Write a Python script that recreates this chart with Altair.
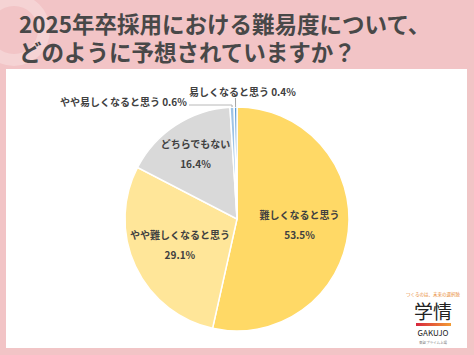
import altair as alt
import pandas as pd

categories = ["難しくなると思う", "やや難しくなると思う", "どちらでもない", "やや易しくなると思う", "易しくなると思う"]
values = [53.5, 29.1, 16.4, 0.6, 0.4]
colors = ["#FFD966", "#FFE699", "#D9D9D9", "#9DC3E6", "#5B9BD5"]
title_lines = ["2025年卒採用における難易度について、", "どのように予想されていますか？"]

df = pd.DataFrame({
    "cat": categories,
    "value": values,
    "order": list(range(len(categories))),
})
df["label"] = [f"{c}\n{v:.1f}%" for c, v in zip(categories, values)]
df["outlabel"] = [f"{c} {v:.1f}%" for c, v in zip(categories, values)]

W, H = 474, 355
CX, CY, R = 237, 219, 112
TAU = 6.283185307179586

theta_scale = alt.Scale(domain=[0, 100], range=[0, TAU])

base = alt.Chart(df).transform_window(
    cum="sum(value)", sort=[{"field": "order"}], frame=[None, 0]
).transform_calculate(
    start="datum.cum - datum.value",
    mid="datum.cum - datum.value / 2",
    lo="datum.cum - datum.value / 2 - 0.07",
    hi="datum.cum - datum.value / 2 + 0.07",
)

one = pd.DataFrame({"a": [0]})

panel = alt.Chart(one).mark_rect(color="white").encode(
    x=alt.value(6), x2=alt.value(467), y=alt.value(69), y2=alt.value(348)
)

ring = alt.Chart(one).mark_arc(radius=36, radius2=24, color="white", opacity=0.25).encode(
    x=alt.value(14), y=alt.value(30), theta=alt.value(0), theta2=alt.value(TAU)
)

title_df = pd.DataFrame({"t": ["\n".join(title_lines)], "py": [33]})
title = alt.Chart(title_df).mark_text(
    font="Noto Sans CJK JP", fontWeight="bold", fontSize=22.5, color="#484848",
    align="left", baseline="alphabetic", lineBreak="\n", lineHeight=28
).encode(
    x=alt.value(19),
    y=alt.Y("py:Q", scale=None),
    text="t:N",
)

pie = base.mark_arc(outerRadius=R, stroke="white", strokeWidth=1.5).encode(
    x=alt.value(CX), y=alt.value(CY),
    theta=alt.Theta("start:Q", scale=theta_scale),
    theta2="cum:Q",
    color=alt.Color("cat:N", scale=alt.Scale(domain=categories, range=colors), legend=None),
)

txt_style = dict(font="Noto Sans CJK JP", fontSize=10, fontWeight="bold", color="#404040",
                 lineBreak="\n", lineHeight=20, align="center", baseline="middle")

inner_big = base.transform_filter("datum.value > 20").mark_text(radius=63, dy=-10, **txt_style).encode(
    x=alt.value(CX), y=alt.value(CY),
    theta=alt.Theta("mid:Q", scale=theta_scale), text="label:N",
)
inner_mid = base.transform_filter("datum.value > 5 && datum.value < 20").mark_text(radius=76, dy=-10, **txt_style).encode(
    x=alt.value(CX), y=alt.value(CY),
    theta=alt.Theta("mid:Q", scale=theta_scale), text="label:N",
)

out_style = dict(font="Noto Sans CJK JP", fontSize=10, fontWeight="bold", color="#404040",
                 baseline="middle")
out_a = base.transform_filter("datum.order == 4").mark_text(radius=126, dx=7, align="center", **out_style).encode(
    x=alt.value(CX), y=alt.value(CY),
    theta=alt.Theta("mid:Q", scale=theta_scale), text="outlabel:N",
)
out_b = base.transform_filter("datum.order == 3").mark_text(radius=116, dx=-45, align="right", **out_style).encode(
    x=alt.value(CX), y=alt.value(CY),
    theta=alt.Theta("mid:Q", scale=theta_scale), text="outlabel:N",
)

lead_a = base.transform_filter("datum.order == 4").mark_arc(radius=121, radius2=R, color="#A6A6A6").encode(
    x=alt.value(CX), y=alt.value(CY),
    theta=alt.Theta("lo:Q", scale=theta_scale), theta2="hi:Q",
)
lead_b_rad = base.transform_filter("datum.order == 3").mark_arc(radius=114, radius2=R, color="#A6A6A6").encode(
    x=alt.value(CX), y=alt.value(CY),
    theta=alt.Theta("lo:Q", scale=theta_scale), theta2="hi:Q",
)
lead_b = alt.Chart(one).mark_rule(color="#A6A6A6", strokeWidth=0.8).encode(
    x=alt.value(189), x2=alt.value(232), y=alt.value(105)
)

logo_df = pd.DataFrame({
    "t": ["つくるのは、未来の選択肢", "学情", "GAKUJO", "東証プライム上場"],
    "y": [295, 313, 334, 343],
    "s": [4.5, 19, 8, 3.5],
    "c": ["#E8862E", "#222222", "#222222", "#777777"],
})
logo = alt.Chart(logo_df).mark_text(font="Noto Sans CJK JP", align="center", baseline="middle").encode(
    x=alt.value(433),
    y=alt.Y("y:Q", scale=None),
    text="t:N",
    size=alt.Size("s:Q", scale=None, legend=None),
    color=alt.Color("c:N", scale=None),
)
bar = alt.Chart(one).mark_rect(
    color=alt.Gradient(gradient="linear", stops=[alt.GradientStop(color="#D7263D", offset=0), alt.GradientStop(color="#F39C33", offset=1)], x1=0, x2=1, y1=0, y2=0)
).encode(x=alt.value(416), x2=alt.value(451), y=alt.value(323), y2=alt.value(326))

chart = alt.layer(
    ring, panel, title, pie, lead_a, lead_b_rad, lead_b, inner_big, inner_mid, out_a, out_b, logo, bar
).properties(
    width=W, height=H, padding=0, autosize=alt.AutoSizeParams(type="none"), background="#F2C4C6"
).configure_view(stroke=None).resolve_scale(y="independent", color="independent", size="independent")

chart.save("out.html", embed_options={"renderer": "svg", "actions": False})
